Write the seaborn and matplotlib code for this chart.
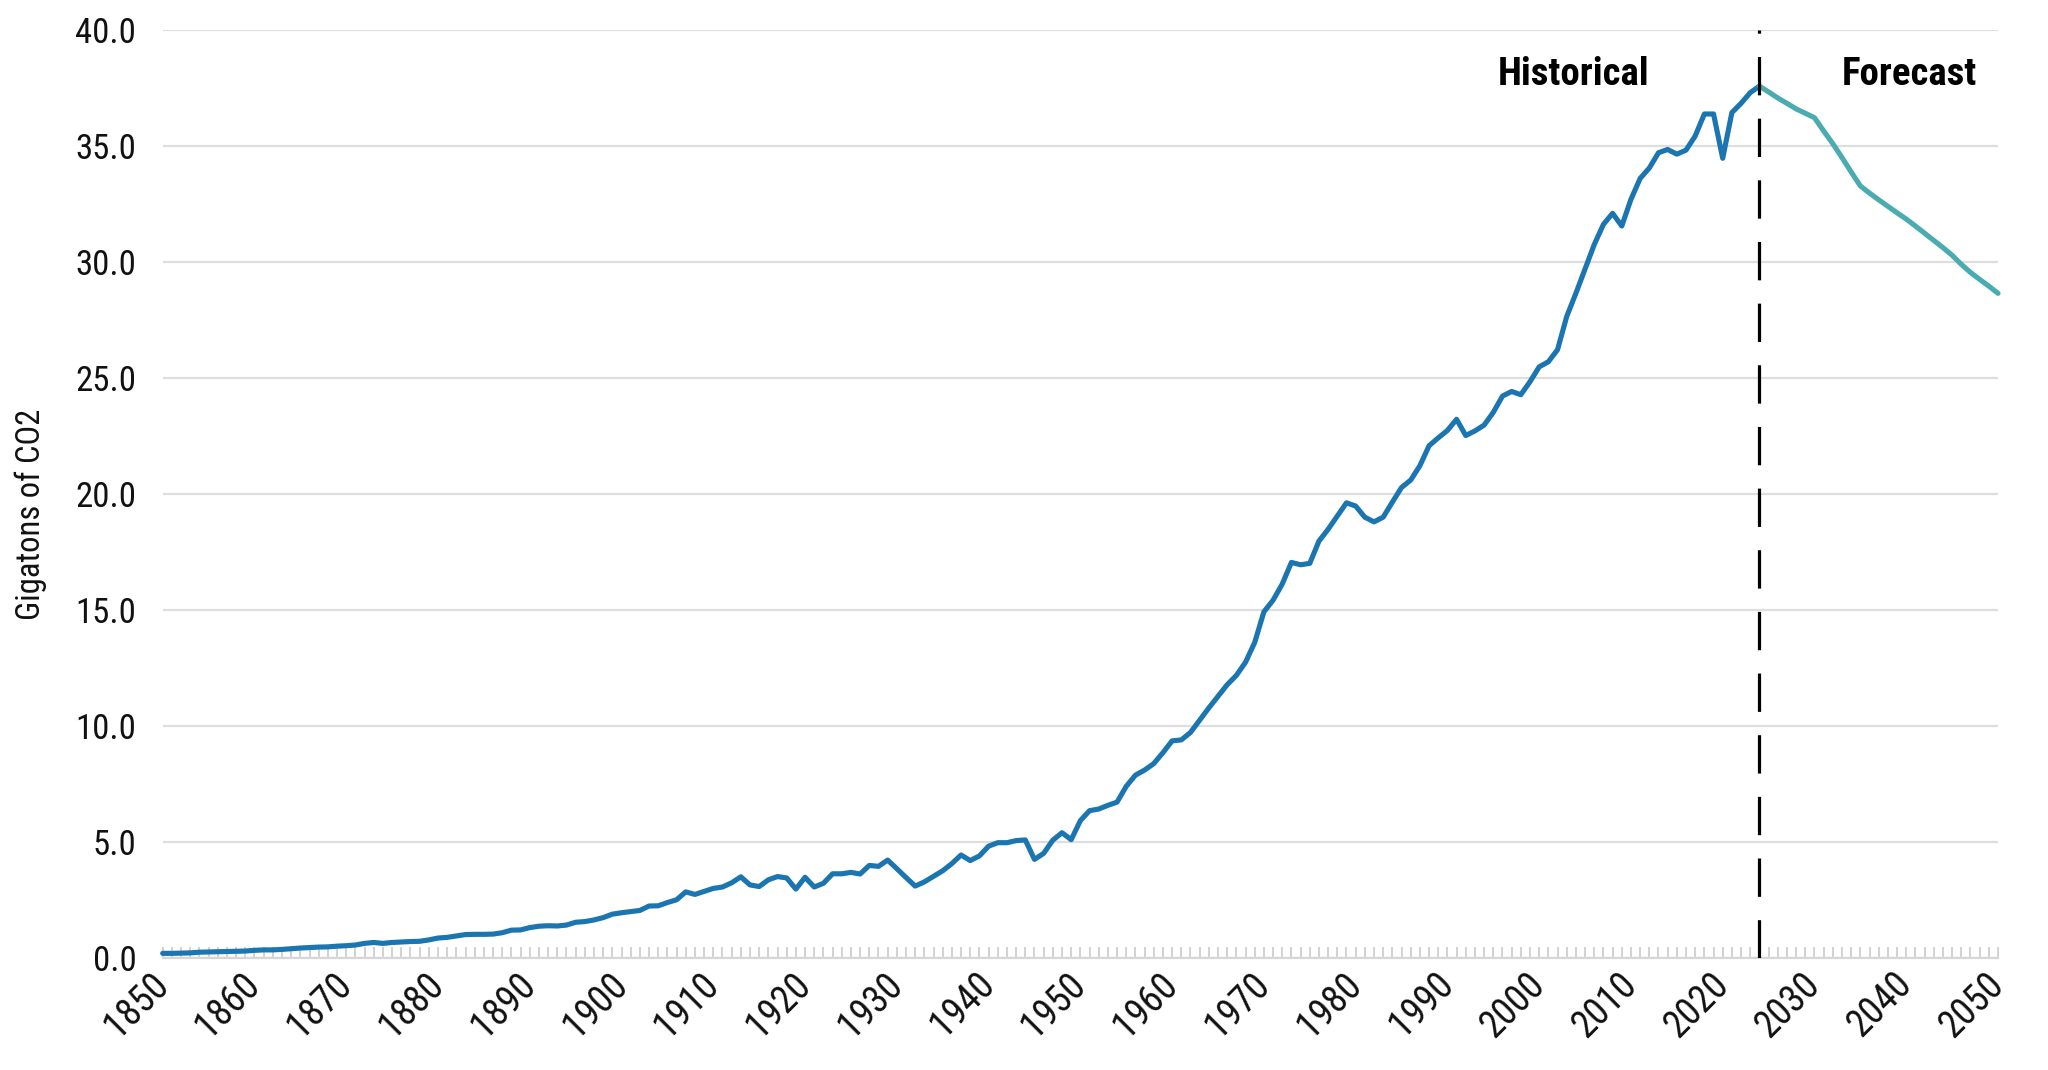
import os
import matplotlib
matplotlib.use("Agg")
import matplotlib.pyplot as plt
from matplotlib import font_manager as fm
import seaborn as sns
import pandas as pd
from matplotlib.ticker import MultipleLocator, FormatStrFormatter

# ---------------- data ----------------
hist_years = list(range(1850, 2025))
hist_values = [
    0.20, 0.20, 0.21, 0.22, 0.25, 0.26, 0.27, 0.28, 0.29, 0.30,   # 1850s
    0.33, 0.35, 0.35, 0.37, 0.40, 0.43, 0.45, 0.47, 0.48, 0.51,   # 1860s
    0.53, 0.56, 0.63, 0.67, 0.63, 0.67, 0.69, 0.71, 0.72, 0.78,   # 1870s
    0.86, 0.89, 0.95, 1.01, 1.02, 1.02, 1.03, 1.09, 1.20, 1.21,   # 1880s
    1.31, 1.37, 1.39, 1.38, 1.42, 1.54, 1.57, 1.64, 1.74, 1.89,   # 1890s
    1.95, 2.00, 2.05, 2.24, 2.25, 2.39, 2.51, 2.85, 2.74, 2.87,   # 1900s
    3.00, 3.06, 3.24, 3.50, 3.15, 3.08, 3.37, 3.51, 3.45, 2.97,   # 1910s
    3.48, 3.06, 3.22, 3.63, 3.63, 3.69, 3.62, 3.99, 3.95, 4.22,   # 1920s
    3.85, 3.47, 3.10, 3.28, 3.52, 3.76, 4.07, 4.44, 4.20, 4.40,   # 1930s
    4.82, 4.97, 4.97, 5.06, 5.09, 4.25, 4.51, 5.08, 5.40, 5.10,   # 1940s
    5.92, 6.35, 6.42, 6.58, 6.72, 7.40, 7.88, 8.10, 8.38, 8.85,   # 1950s
    9.36, 9.40, 9.72, 10.25, 10.78, 11.28, 11.78, 12.18, 12.75, 13.60,  # 1960s
    14.92, 15.42, 16.12, 17.05, 16.95, 17.01, 17.97, 18.48, 19.05, 19.62,  # 1970s
    19.48, 19.00, 18.80, 19.00, 19.65, 20.28, 20.60, 21.22, 22.08, 22.42,  # 1980s
    22.74, 23.22, 22.52, 22.72, 22.97, 23.52, 24.22, 24.42, 24.28, 24.84,  # 1990s
    25.48, 25.70, 26.22, 27.65, 28.65, 29.70, 30.75, 31.62, 32.10, 31.55,  # 2000s
    32.70, 33.60, 34.05, 34.71, 34.85, 34.65, 34.82, 35.43, 36.38, 36.38,  # 2010s
    34.47, 36.44, 36.84, 37.30, 37.58,                                     # 2020-2024
]

fc_years = list(range(2024, 2051))
fc_values = [
    37.58, 37.33, 37.07, 36.84, 36.60, 36.41, 36.22, 35.65, 35.10, 34.50,
    33.88, 33.28, 32.97, 32.68, 32.40, 32.12, 31.85, 31.55, 31.24, 30.93,
    30.62, 30.29, 29.90, 29.55, 29.25, 28.96, 28.65,
]

divider_year = 2024
x_tick_years = list(range(1850, 2051, 10))
y_ticks = [0, 5, 10, 15, 20, 25, 30, 35, 40]
label_hist = "Historical"
label_fc = "Forecast"
y_label = "Gigatons of CO2"

BLUE = "#1a75b0"
TEAL = "#4aabb0"

# ---------------- fonts: look for a condensed face ----------------
sys_fonts = fm.findSystemFonts()
by_base = {os.path.basename(p).lower(): p for p in sys_fonts}


def pick(cands):
    for c in cands:
        if c.lower() in by_base:
            return by_base[c.lower()]
    return None


reg_path = pick(["LiberationSansNarrow-Regular.ttf", "RobotoCondensed-Regular.ttf",
                 "DejaVuSansCondensed.ttf", "OpenSans_Condensed-Regular.ttf",
                 "NotoSans-Condensed.ttf", "NotoSans-CondensedRegular.ttf"])
bold_path = pick(["LiberationSansNarrow-Bold.ttf", "RobotoCondensed-Bold.ttf",
                  "DejaVuSansCondensed-Bold.ttf", "OpenSans_Condensed-Bold.ttf",
                  "NotoSans-CondensedBold.ttf"])

# ---------------- style ----------------
sns.set_theme(style="white")
if reg_path:
    fm.fontManager.addfont(reg_path)
    reg_name = fm.FontProperties(fname=reg_path).get_name()
    plt.rcParams["font.family"] = [reg_name, "DejaVu Sans"]
    ytick_fs, xtick_fs, ylab_fs = 25, 27, 23.5
else:
    plt.rcParams["font.family"] = ["DejaVu Sans"]
    ytick_fs, xtick_fs, ylab_fs = 21, 22, 20
if bold_path:
    bold_prop = fm.FontProperties(fname=bold_path, size=28)
else:
    bold_prop = fm.FontProperties(family="DejaVu Sans", weight="bold", size=25)

W, H = 2048, 1070
fig = plt.figure(figsize=(W / 100, H / 100), dpi=100)
left, right, top, bottom = 162.7, 1998, 30, 958
ax = fig.add_axes([left / W, 1 - bottom / H, (right - left) / W, (bottom - top) / H])

df_hist = pd.DataFrame({"Year": hist_years, "Gt": hist_values})
df_fc = pd.DataFrame({"Year": fc_years, "Gt": fc_values})

sns.lineplot(data=df_hist, x="Year", y="Gt", ax=ax, color=BLUE, linewidth=3.7,
             clip_on=False, zorder=3)
sns.lineplot(data=df_fc, x="Year", y="Gt", ax=ax, color=TEAL, linewidth=3.7,
             clip_on=False, zorder=3)

ax.axvline(divider_year, color="black", linewidth=2.3,
           linestyle=(0, (12, 7.3)), zorder=4)

ax.set_xlim(1850, 2050)
ax.set_ylim(0, 40)

ax.set_yticks(y_ticks)
ax.yaxis.set_major_formatter(FormatStrFormatter("%.1f"))
ax.set_xticks(x_tick_years)
ax.set_xticklabels([str(y) for y in x_tick_years])
ax.xaxis.set_minor_locator(MultipleLocator(1))

ax.grid(axis="y", color="#dedede", linewidth=1.6)
ax.grid(axis="x", visible=False)
ax.set_axisbelow(True)

for s in ["left", "top", "right"]:
    ax.spines[s].set_visible(False)
ax.spines["bottom"].set_color("#d6d6d6")
ax.spines["bottom"].set_linewidth(1.6)

ax.tick_params(axis="x", which="both", direction="in", length=8, width=1.3,
               color="#cfcfcf", bottom=True)
ax.tick_params(axis="x", which="major", labelsize=xtick_fs, pad=15, labelcolor="#111111")
ax.tick_params(axis="y", length=0, labelsize=ytick_fs, pad=19, labelcolor="#111111")
for lbl in ax.get_xticklabels():
    lbl.set_rotation(45)
    lbl.set_ha("right")
    lbl.set_va("center")
    lbl.set_rotation_mode("anchor")

ax.set_xlabel("")
ax.set_ylabel("")
fig.text(31 / W, 1 - 514 / H, y_label, rotation=90, ha="center", va="center",
         fontsize=ylab_fs, color="#111111")

ax.text(divider_year - 12, 38.1, label_hist, ha="right", va="center",
        fontproperties=bold_prop, color="black")
ax.text(divider_year + 9, 38.1, label_fc, ha="left", va="center",
        fontproperties=bold_prop, color="black")

fig.savefig("out.png", dpi=100, facecolor="white")
